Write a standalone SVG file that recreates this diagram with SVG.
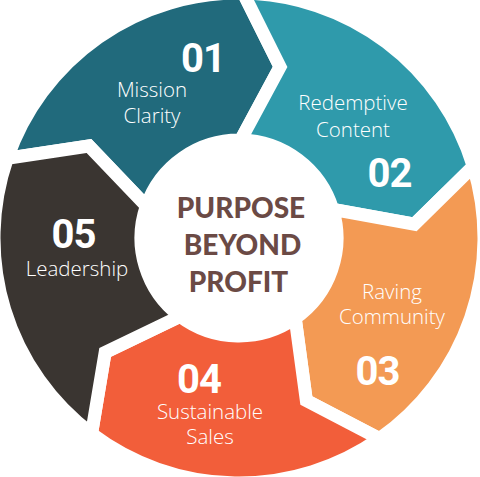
<svg xmlns="http://www.w3.org/2000/svg" width="480" height="477" viewBox="0 0 480 477">
<style>
.seg{stroke:#ffffff;stroke-width:13;stroke-linejoin:miter}
.num{font-family:Roboto,"Open Sans",sans-serif;font-weight:700;font-size:40px;fill:#ffffff;text-anchor:middle;letter-spacing:-1px}
.lbl{font-family:"Open Sans","Liberation Sans",sans-serif;font-weight:300;font-size:20.5px;fill:#ffffff;text-anchor:middle}
.ctr{font-family:Lato,"Open Sans",sans-serif;font-weight:900;font-size:28px;fill:#6b4a45;text-anchor:middle}
</style>
<rect width="480" height="477" fill="#ffffff"/>
<g id="node-01">
<path class="seg" fill="#216a7c" d="M7.35 158.24 A245 245 0 0 1 243.28 -6.96 L280.09 66.86 L240.71 140.01 A98 98 0 0 0 146.34 206.09 L88.94 146.04 Z"/>
<text class="num" x="203" y="72">01</text>
<text class="lbl" x="152" y="97">Mission</text>
<text class="lbl" x="152" y="123">Clarity</text>
</g>
<g id="node-02">
<path class="seg" fill="#2f9aab" d="M243.28 -6.96 A245 245 0 0 1 473.29 166.37 L414.46 224.19 L332.72 209.35 A98 98 0 0 0 240.71 140.01 L280.09 66.86 Z"/>
<text class="lbl" x="353" y="110">Redemptive</text>
<text class="lbl" x="353" y="137">Content</text>
<text class="num" x="389.5" y="187">02</text>
</g>
<g id="node-03">
<path class="seg" fill="#f39a54" d="M473.29 166.37 A245 245 0 0 1 379.53 438.69 L306.35 400.6 L295.21 318.28 A98 98 0 0 0 332.72 209.35 L414.46 224.19 Z"/>
<text class="lbl" x="392" y="299">Raving</text>
<text class="lbl" x="392" y="324">Community</text>
<text class="num" x="377.5" y="385">03</text>
</g>
<g id="node-04">
<path class="seg" fill="#f25e3a" d="M379.53 438.69 A245 245 0 0 1 91.55 433.67 L105.17 352.3 L180.02 316.27 A98 98 0 0 0 295.21 318.28 L306.35 400.6 Z"/>
<text class="num" x="199" y="393">04</text>
<text class="lbl" x="210" y="419">Sustainable</text>
<text class="lbl" x="210" y="444">Sales</text>
</g>
<g id="node-05">
<path class="seg" fill="#3a3531" d="M91.55 433.67 A245 245 0 0 1 7.35 158.24 L88.94 146.04 L146.34 206.09 A98 98 0 0 0 180.02 316.27 L105.17 352.3 Z"/>
<text class="num" x="73.5" y="248">05</text>
<text class="lbl" x="77" y="276">Leadership</text>
</g>
<g id="center">
<circle cx="239" cy="238" r="98" fill="#ffffff"/>
<text class="ctr" x="241" y="218">PURPOSE</text>
<text class="ctr" x="242.5" y="255">BEYOND</text>
<text class="ctr" x="238.5" y="292">PROFIT</text>
</g>
</svg>
